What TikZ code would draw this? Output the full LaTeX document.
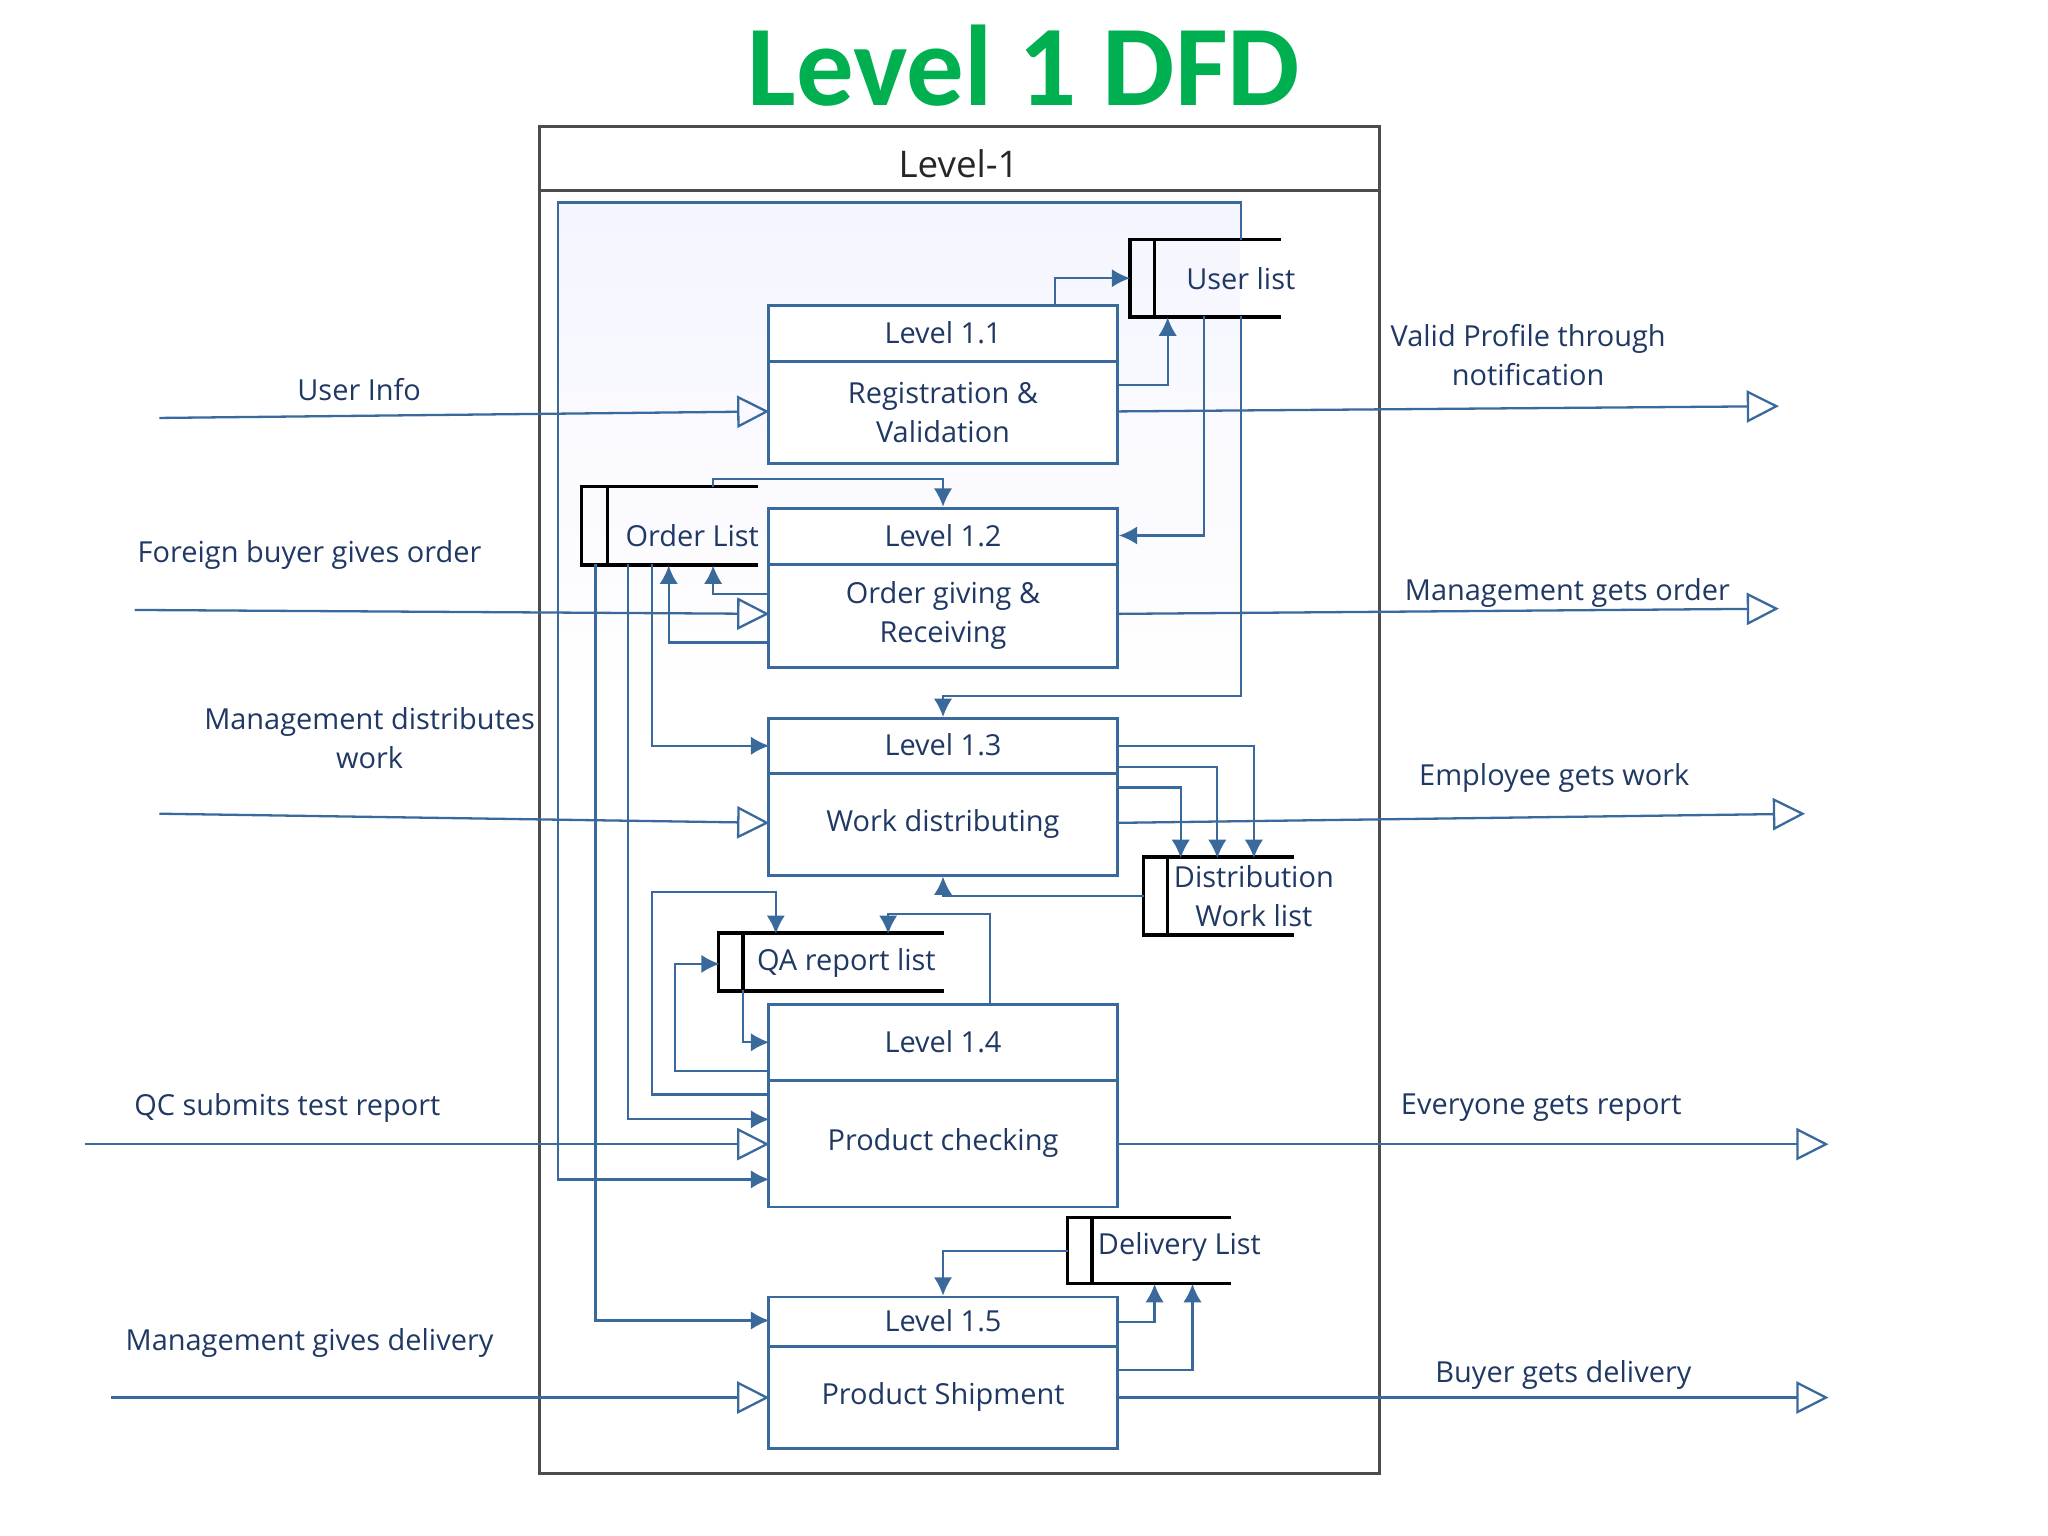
\documentclass[tikz,border=0pt]{standalone}
\usepackage{fontspec}
\setmainfont{Open Sans}
\newfontfamily\titlefont{Carlito}
\usetikzlibrary{arrows.meta}
\definecolor{ln}{HTML}{3A6A9C}
\definecolor{tx}{HTML}{1F3864}
\definecolor{gr}{HTML}{00B050}
\begin{document}
\begin{tikzpicture}[x=0.01cm,y=-0.01cm,
  every node/.style={font=\fontsize{6.3}{8.5}\selectfont,text=tx},
  proc/.style={draw=ln,line width=0.6pt,fill=white,minimum width=2.67cm,inner sep=0},
  store/.style={inner sep=0,align=center},
  flow/.style={draw=ln,line width=0.5pt,-{Latex[length=4pt,width=4pt]}},
  ext/.style={draw=ln,line width=0.5pt,-{Triangle[open,length=7pt,width=7pt]}},
  sline/.style={draw=black,line width=0.75pt},
  lbl/.style={align=center}]
\useasboundingbox (0,0) rectangle (1568,1176);
\node[font=\titlefont\bfseries\fontsize{25}{30}\selectfont,text=gr] (title) at (784,50) {Level 1 DFD};
% outer frame
\draw[draw=black!70,line width=0.6pt] (413,97) rectangle (1056,1128);
\draw[draw=black!70,line width=0.6pt] (413,146) -- (1056,146);
\node[font=\fontsize{8}{10}\selectfont,text=black!85] (lv) at (734,125) {Level-1};
\shade[top color=blue!4,bottom color=white] (428,156) rectangle (949,540);
% processes
\newcommand\proc[6]{%
 \node[proc,minimum height=#4*0.01cm,anchor=north] (#1) at (722,#3) {};
 \draw[ln,line width=0.6pt] (589,#5) -- (856,#5);
 \node at (722,{(#3+#5)/2}) {#2};
 \node[lbl] at (722,{(#5+#3+#4)/2}) {#6};}
\proc{p1}{Level 1.1}{233}{121}{277}{Registration \&\\Validation}
\proc{p2}{Level 1.2}{388}{122}{432}{Order giving \&\\Receiving}
\proc{p3}{Level 1.3}{549}{120}{592}{Work distributing}
\proc{p4}{Level 1.4}{768}{155}{827}{Product checking}
\proc{p5}{Level 1.5}{992}{116}{1031}{Product Shipment}
% stores
\newcommand\store[8]{%
 \node[store,minimum width=#4*0.01cm,minimum height=#5*0.01cm] (#1) at ({#2+#4/2},{#3+#5/2}) {};
 \draw[sline] (#1.north east) -- (#1.north west) -- (#1.south west) -- (#1.south east);
 \draw[sline] ({#2+#6},#3) -- ({#2+#6},{#3+#5});
 \node[lbl] at (#7) {#8};}
\store{ul}{866}{184}{114}{58}{18}{950,213}{User list}
\store{ol}{446}{373}{134}{59}{19}{530,410}{Order List}
\store{dl}{876}{657}{114}{58}{18}{960,686}{Distribution\\Work list}
\store{qa}{551}{715}{171}{43}{18}{648,737}{QA report list}
\store{del}{818}{933}{124}{49}{18}{903,955}{Delivery List}
% external inputs
\coordinate (i1) at (122,320); \coordinate (i2) at (103,467); \coordinate (i3) at (122,623);
\coordinate (i4) at (65,876); \coordinate (i5) at (85,1070);
\draw[ext] (i1) -- (589,315);
\draw[ext] (i2) -- (589,470);
\draw[ext] (i3) -- (589,630);
\draw[ext] (i4) -- (589,876);
\draw[ext] (i5) -- (589,1070);
\node (l1) at (275,298) {User Info};
\node (l2) at (237,425) {Foreign buyer gives order};
\node[lbl] (l3) at (283,565) {Management distributes\\work};
\node (l4) at (220,848) {QC submits test report};
\node (l5) at (237,1028) {Management gives delivery};
% outputs
\coordinate (o1) at (1362,311); \coordinate (o2) at (1362,466); \coordinate (o3) at (1382,623);
\coordinate (o4) at (1400,876); \coordinate (o5) at (1400,1070);
\draw[ext] (856,315) -- (o1);
\draw[ext] (856,470) -- (o2);
\draw[ext] (856,630) -- (o3);
\draw[ext] (856,876) -- (o4);
\draw[ext] (856,1070) -- (o5);
\node[lbl] (r1) at (1170,272) {Valid Profile through\\notification};
\node (r2) at (1200,454) {Management gets order};
\node (r3) at (1190,596) {Employee gets work};
\node (r4) at (1180,848) {Everyone gets report};
\node (r5) at (1197,1053) {Buyer gets delivery};
% internal flows
\draw[flow] (808,233) -- (808,213) -- (ul.west |- 0,213);
\draw[flow] (856,295) -- (894,295) -- (894,243);
\draw[flow] (922,242) -- (922,410) -- (p2.east |- 0,410);
\draw[flow] (950,184) -- (950,155) -- (427,155) -- (427,903) -- (589,903);
\draw[flow] (950,242) -- (950,533) -- (722,533) -- (p3.north);
\draw[flow] (546,373) -- (546,367) -- (722,367) -- (p2.north);
\draw[flow] (589,455) -- (546,455) -- (546,433);
\draw[flow] (589,492) -- (512,492) -- (512,433);
\draw[flow] (499,432) -- (499,571) -- (589,571);
\draw[flow] (481,432) -- (481,857) -- (589,857);
\draw[flow] (456,432) -- (456,1011) -- (589,1011);
\draw[flow] (589,838) -- (499,838) -- (499,683) -- (594,683) -- (594,715);
\draw[flow] (589,820) -- (517,820) -- (517,738) -- (551,738);
\draw[flow] (569,758) -- (569,798) -- (589,798);
\draw[flow] (758,768) -- (758,700) -- (680,700) -- (680,715);
\draw[flow] (856,571) -- (960,571) -- (960,657);
\draw[flow] (856,587) -- (932,587) -- (932,657);
\draw[flow] (856,603) -- (904,603) -- (904,657);
\draw[flow] (876,686) -- (722,686) -- (p3.south);
\draw[flow] (818,958) -- (722,958) -- (p5.north);
\draw[flow] (856,1012) -- (884,1012) -- (884,983);
\draw[flow] (856,1049) -- (913,1049) -- (913,983);
\end{tikzpicture}
\end{document}
